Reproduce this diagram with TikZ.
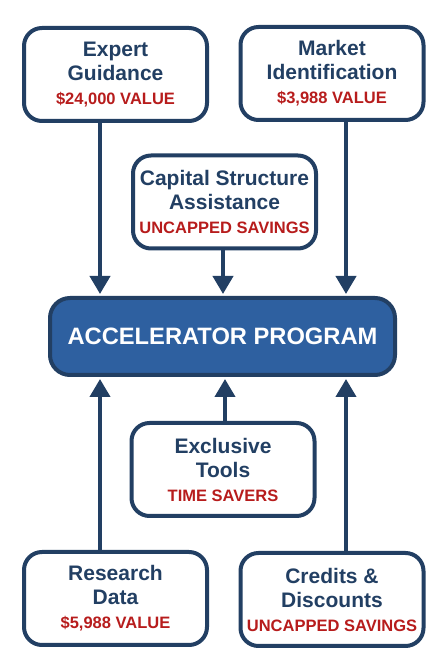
\documentclass[tikz,border=0pt]{standalone}
\usepackage{fontspec}
\setmainfont{Liberation Sans}
\usepackage{tikz}
\usetikzlibrary{arrows.meta, positioning}
\definecolor{navy}{HTML}{223F63}
\definecolor{valred}{HTML}{B71C1C}
\definecolor{progblue}{HTML}{2E60A0}
\newcommand{\perkval}[1]{{\color{valred}\fontsize{16.5}{24}\selectfont #1}}

\begin{document}
\begin{tikzpicture}[x=1pt, y=1pt,
  perk/.style={draw=navy, line width=4pt, rounded corners=18pt, fill=white,
    minimum width=183pt, minimum height=93pt, inner sep=0pt, align=center,
    text=navy, font=\fontsize{21}{24}\selectfont\bfseries},
  feed/.style={navy, line width=4pt, shorten >=2pt, -{Triangle[width=20pt, length=18pt]}}]
\useasboundingbox (0,0) rectangle (446,672);
% Central program box
\node[draw=navy, fill=progblue, line width=4pt, rounded corners=20pt,
  minimum width=345pt, minimum height=77pt, text=white,
  font=\fontsize{23.7}{28}\selectfont\bfseries] (prog) at (222.5,335.5) {ACCELERATOR PROGRAM};
% Top row (feeds going down)
\node[perk] (expert) at (115.5,597.5) {Expert\\Guidance\\\perkval{\$24,000 VALUE}};
\node[perk] (market) at (332,598.5) {Market\\Identification\\\perkval{\$3,988 VALUE}};
\node[perk] (capital) at (224.5,470) {Capital Structure\\Assistance\\\perkval{UNCAPPED SAVINGS}};
% Bottom row (feeds going up)
\node[perk] (tools) at (223,202.5) {Exclusive\\Tools\\\perkval{TIME SAVERS}};
\node[perk] (research) at (115.5,73.5) {Research\\Data\\\perkval{\$5,988 VALUE}};
\node[perk] (credits) at (332,72.5) {Credits \&\\Discounts\\\perkval{UNCAPPED SAVINGS}};
% Connectors
\foreach \src/\dx in {expert/-15.5, capital/-1.5, market/14} {
  \draw[feed] ([xshift=\dx pt]\src.south) -- ([xshift=\dx pt]\src.south |- prog.north);
}
\foreach \src/\dx in {research/-15.5, tools/2, credits/14} {
  \draw[feed] ([xshift=\dx pt]\src.north) -- ([xshift=\dx pt]\src.north |- prog.south);
}
\end{tikzpicture}
\end{document}
